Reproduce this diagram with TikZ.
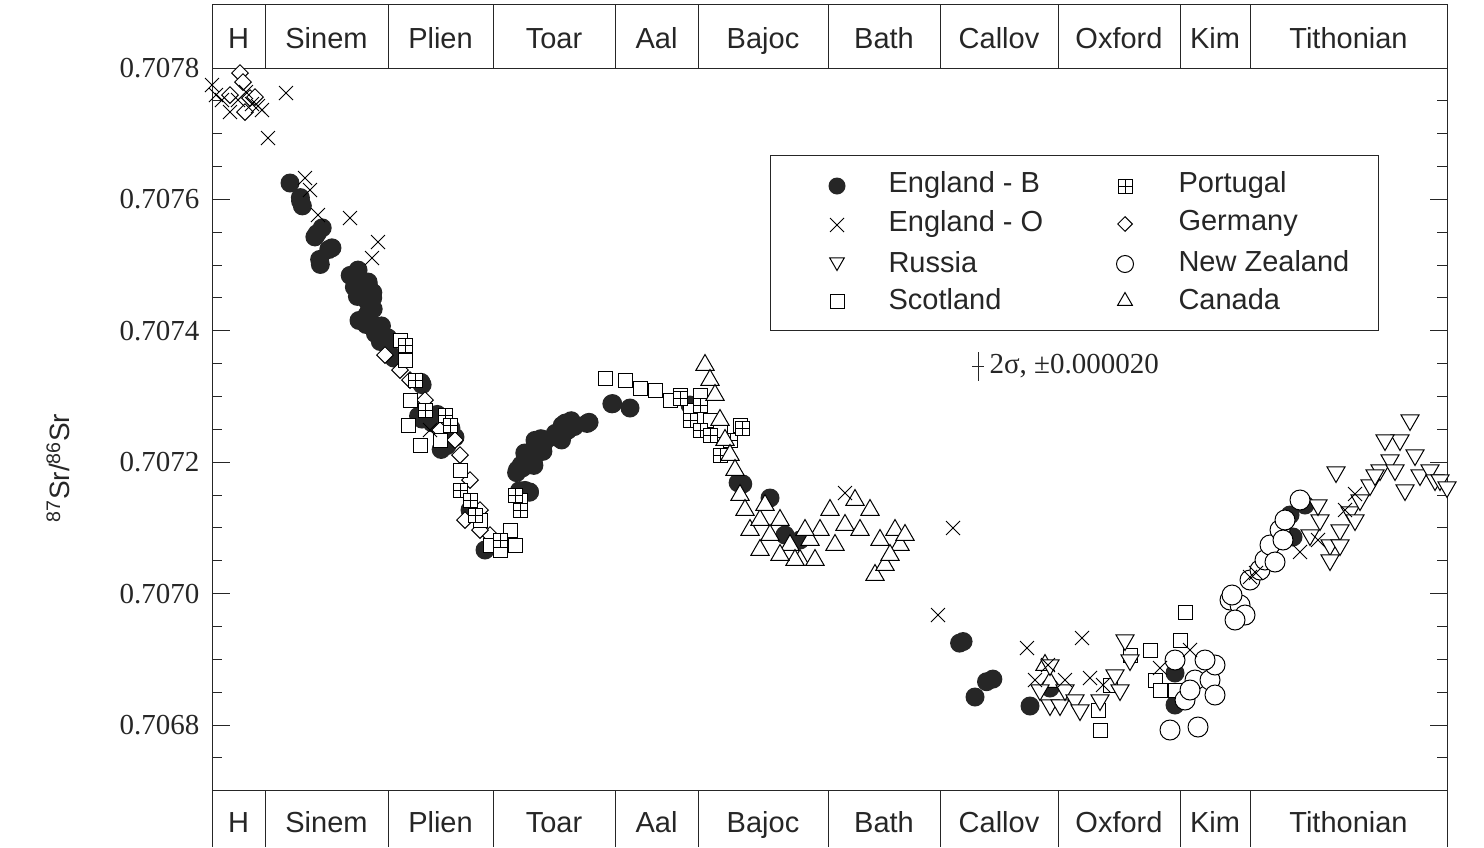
\documentclass[tikz,border=0pt]{standalone}
\usepackage{fontspec}
\setmainfont{Liberation Serif}
\setsansfont{Liberation Sans}
\usetikzlibrary{shapes.geometric,shapes.misc}
\begin{document}
\begin{tikzpicture}[x=1pt,y=-1pt,
  fb/.style={circle,fill=black!85,inner sep=0,minimum size=19pt},
  ex/.style={cross out,draw,line width=1pt,inner sep=0,minimum size=13pt},
  tdn/.style={regular polygon,regular polygon sides=3,shape border rotate=180,draw,line width=1pt,fill=white,inner sep=0,minimum size=21pt},
  tup/.style={regular polygon,regular polygon sides=3,draw,line width=1pt,fill=white,inner sep=0,minimum size=21pt},
  sq/.style={rectangle,draw,line width=1pt,fill=white,inner sep=0,minimum size=14pt},
  sqp/.style={sq,path picture={\draw[line width=0.8pt] (path picture bounding box.north)--(path picture bounding box.south) (path picture bounding box.west)--(path picture bounding box.east);}},
  dia/.style={diamond,draw,line width=1pt,fill=white,inner sep=0,minimum size=17pt},
  oc/.style={circle,draw,line width=1pt,fill=white,inner sep=0,minimum size=20pt},
  stage/.style={font=\sffamily\fontsize{29}{30}\selectfont,text=black!85,anchor=base},
  leg/.style={font=\sffamily\fontsize{29}{30}\selectfont,text=black!85,anchor=west},
  tick/.style={font=\fontsize{29}{30}\selectfont,text=black!85,anchor=east}]
\useasboundingbox (0,0) rectangle (1484,847);
\pgfmathsetseed{7}
% frame
\draw[line width=1pt,black!85] (212,4) rectangle (1447,68);
\draw[line width=1pt,black!85] (212,68) -- (212,847) (1447,68) -- (1447,847) (212,790) -- (1447,790);
\foreach \x in {265,388,493,615,698,828,940,1058,1180,1250}{
  \draw[line width=1pt,black!85] (\x,4)--(\x,68) (\x,790)--(\x,847);}
\foreach \a/\b/\t [count=\i] in {212/265/H,265/388/Sinem,388/493/Plien,493/615/Toar,615/698/Aal,698/828/Bajoc,828/940/Bath,940/1058/Callov,1058/1180/Oxford,1180/1250/Kim,1250/1447/Tithonian}{
  \node[stage] (ts\i) at ({(\a+\b)/2},48) {\t};
  \node[stage] (bs\i) at ({(\a+\b)/2},832) {\t};}
% ticks
\foreach \k in {0,...,21}{
  \pgfmathsetmacro\yy{68+\k*32.85}
  \pgfmathtruncatemacro\m{mod(\k,4)}
  \ifnum\m=0
    \draw[line width=1pt,black!85] (212,\yy)--(230,\yy) (1447,\yy)--(1430,\yy);
  \else
    \draw[line width=1pt,black!85] (212,\yy)--(222,\yy) (1447,\yy)--(1437,\yy);
  \fi}
\foreach \k/\t in {0/0.7078,1/0.7076,2/0.7074,3/0.7072,4/0.7070,5/0.7068}{
  \node[tick] (yl\k) at (203,{68+\k*131.4}) {\t};}
\node[rotate=90,font=\sffamily\fontsize{28}{30}\selectfont,text=black!85] (ylab) at (58,468) {\textsuperscript{87}Sr/\textsuperscript{86}Sr};
% data: filled circles
\foreach \x/\y/\n/\s in {290/183/1/0,298/200/3/6,318/232/3/6,320/260/2/5,332/248/2/5,355/275/4/6,362/290/5/8,372/300/6/9,365/320/4/7,378/330/4/6,385/340/3/5,395/355/2/5,420/385/2/5,420/415/2/5,435/420/3/6,450/432/3/6,445/445/2/5,470/510/1/0,485/550/1/0,520/470/3/5,524/490/4/6,530/460/5/8,540/445/6/8,555/432/6/8,570/425/5/6,590/420/2/4,610/405/2/4,630/408/1/0,690/405/1/0,740/480/2/4,770/498/1/0,785/535/1/0,800/540/1/0,962/641/2/3,975/697/1/0,990/678/2/4,1030/706/1/0,1050/688/1/0,1175/705/1/0,1175/673/1/0,1290/515/1/0,1305/505/1/0,1293/537/1/0}{
  \foreach \i in {1,...,\n}{\node[fb] at ({\x+rand*\s},{\y+rand*\s}) {};}}
% diamonds
\foreach \x/\y in {240/73,243/82,230/95,250/98,245/112,255/97,385/355,400/370,410/380,425/400,440/430,455/440,460/455,470/480,480/510,490/535,505/545,480/530,465/520}{\node[dia] at (\x,\y) {};}
% squares
\foreach \x/\y in {400/340,405/360,410/400,408/425,420/445,440/440,460/470,480/520,490/545,500/550,510/530,515/545,520/500,605/378,625/380,640/388,655/390,670/400,680/395,690/410,700/395,710/420,720/430,740/425,1100/730,1110/685,1098/710,1150/650,1155/680,1180/640,1185/612,1175/690,1160/690,1130/655}{\node[sq] at (\x,\y) {};}
\foreach \x/\y in {405/345,415/380,425/410,445/415,450/425,460/490,470/500,475/515,500/540,515/495,520/510,680/398,690/420,700/430,710/435,730/440,742/428,720/455,700/405}{\node[sqp] at (\x,\y) {};}
% triangles up
\foreach \x/\y in {705/365,710/380,715/395,720/420,725/440,730/455,735/470,740/495,745/510,750/530,760/520,765/505,780/520,790/545,800/560,810/540,820/530,830/510,835/545,845/525,855/500,860/530,870/510,880/540,875/575,885/565,895/530,900/545,905/535,890/555,815/560,805/530,795/560,780/555,770/535,760/550,1050/682,1045/665}{\node[tup] at (\x,\y) {};}
% triangles down
\foreach \x/\y in {1050/665,1040/690,1050/705,1060/705,1065/690,1075/700,1080/710,1100/700,1115/675,1125/640,1130/660,1120/690,1336/472,1330/545,1340/530,1350/512,1360/500,1370/485,1380/470,1390/460,1400/440,1410/420,1420/475,1430/470,1435/480,1385/440,1395/470,1405/490,1415/455,1440/480,1447/487,1320/520,1310/535,1318/505,1330/560,1340/545,1355/520,1375/475}{\node[tdn] at (\x,\y) {};}
% open circles
\foreach \x/\y in {1170/730,1185/700,1195/680,1210/680,1215/665,1205/660,1215/695,1198/727,1190/690,1175/660,1230/600,1240/605,1245/615,1235/620,1232/595,1250/580,1260/570,1265/560,1270/545,1280/530,1285/520,1300/500,1275/562,1283/540}{\node[oc] at (\x,\y) {};}
% crosses
\foreach \x/\y in {212/85,216/95,222/100,230/112,238/100,246/92,252/104,258/106,262/110,268/138,286/93,305/178,310/190,318/215,350/218,378/242,372/258,430/430,845/493,953/528,938/615,1027/648,1082/638,1048/665,1035/680,1065/680,1090/678,1103/685,1160/668,1250/577,1256/573,1300/552,1318/540,1345/510,1355/494,1190/650}{\node[ex] at (\x,\y) {};}
% legend
\draw[line width=1pt,black!85,fill=white] (770,155) rectangle (1378,330);
\node[fb,minimum size=17pt] (m1) at (837,186) {}; \node[leg] (l1) at (885,185) {England - B};
\node[ex] (m2) at (837,225) {}; \node[leg] (l2) at (885,224) {England - O};
\node[tdn,minimum size=17pt] (m3) at (837,262) {}; \node[leg] (l3) at (885,262) {Russia};
\node[sq] (m4) at (837,301) {}; \node[leg] (l4) at (885,299) {Scotland};
\node[sqp] (m5) at (1125,186) {}; \node[leg] (l5) at (1175,185) {Portugal};
\node[dia,minimum size=15pt] (m6) at (1125,224) {}; \node[leg] (l6) at (1175,223) {Germany};
\node[oc,minimum size=17pt] (m7) at (1125,264) {}; \node[leg] (l7) at (1175,261) {New Zealand};
\node[tup,minimum size=17pt] (m8) at (1125,301) {}; \node[leg] (l8) at (1175,299) {Canada};
% error bar
\draw[line width=1pt,black!85] (978,352)--(978,381) (972,366)--(984,366);
\node[anchor=west,font=\fontsize{29}{30}\selectfont,text=black!85] (err) at (986,366) {2σ, ±0.000020};
\end{tikzpicture}
\end{document}
